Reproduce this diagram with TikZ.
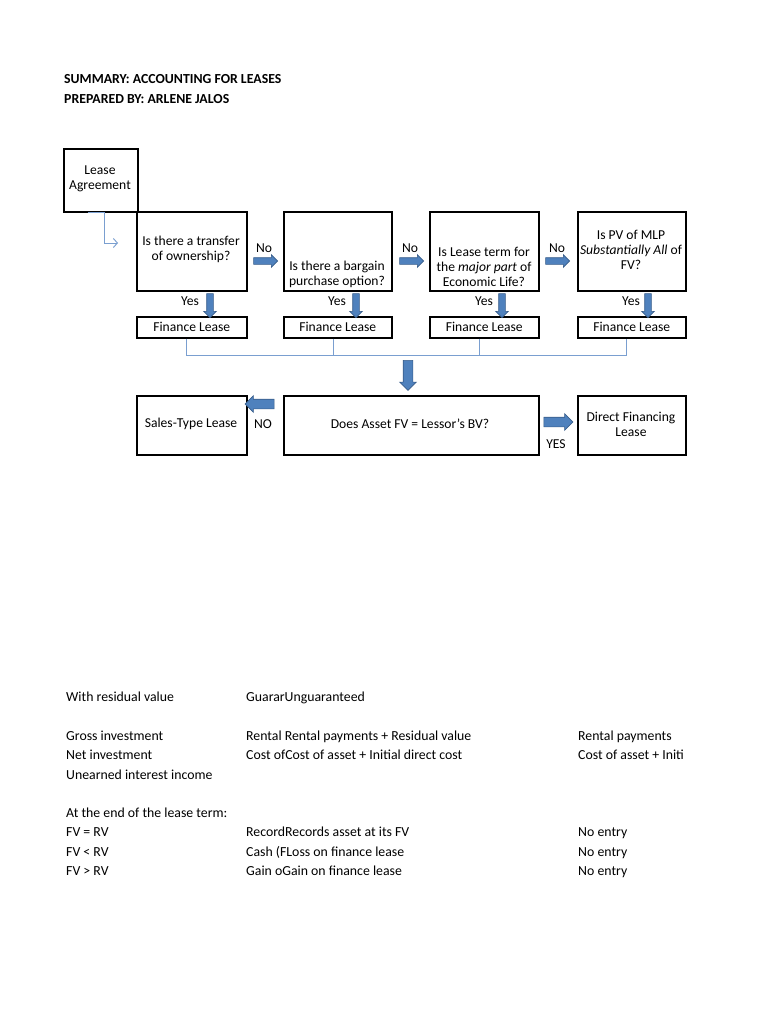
\documentclass[tikz,border=0pt]{standalone}
\usepackage{fontspec}
\setmainfont{Carlito}
\usetikzlibrary{shapes.arrows,arrows.meta}
\definecolor{arrowblue}{HTML}{4F81BD}
\definecolor{arrowedge}{HTML}{385D8A}
\definecolor{thinblue}{HTML}{7A9FD0}
\tikzset{
  box/.style={draw=black, line width=1.6pt, anchor=north west, inner sep=0pt},
  txt/.style={font=\fontsize{13.6}{15}\selectfont, align=center, inner sep=0pt},
  plain/.style={font=\fontsize{13.8}{15}\selectfont, anchor=base west, inner sep=0pt},
  ttl/.style={font=\bfseries\fontsize{13.8}{15}\selectfont, anchor=base west, inner sep=0pt},
  lab/.style={font=\fontsize{13.6}{15}\selectfont, inner sep=0pt},
  blk/.style={shape=single arrow, draw=arrowedge, fill=arrowblue, line width=0.6pt,
    inner xsep=0pt, single arrow head indent=0pt},
  smallarr/.style={blk, inner ysep=3pt, minimum height=24pt, single arrow head extend=3pt},
  bigarr/.style={blk, inner ysep=4.5pt, minimum height=29pt, single arrow head extend=3.5pt},
  thin/.style={draw=thinblue, line width=0.8pt}
}
\begin{document}
\begin{tikzpicture}[x=1pt,y=-1pt]
\useasboundingbox[fill=white] (0,0) rectangle (768,1024);

% titles
\node[ttl] (t1) at (64,84) {SUMMARY: ACCOUNTING FOR LEASES};
\node[ttl] (t2) at (64,104) {PREPARED BY: ARLENE JALOS};

% lease agreement
\node[box, minimum width=74pt, minimum height=63pt] (la) at (63,148) {};
\node[txt] (lat) at (100,179) {Lease\\Agreement};

% question boxes
\node[box, minimum width=110pt, minimum height=79pt] (b1) at (136,211) {};
\node[box, minimum width=108pt, minimum height=79pt] (b2) at (283,211) {};
\node[box, minimum width=109pt, minimum height=79pt] (b3) at (429,211) {};
\node[box, minimum width=108pt, minimum height=79pt] (b4) at (577,211) {};
\node[txt] (b1t) at (191,249) {Is there a transfer\\of ownership?};
\node[txt] (b2t) at (337,274) {Is there a bargain\\purchase option?};
\node[txt] (b3t) at (484,267) {Is Lease term for\\the \textit{major part} of\\Economic Life?};
\node[txt] (b4t) at (631,250) {Is PV of MLP\\\textit{Substantially All} of\\FV?};

% finance lease boxes
\node[box, minimum width=110pt, minimum height=21pt] (f1) at (136,316) {};
\node[box, minimum width=108pt, minimum height=21pt] (f2) at (283,316) {};
\node[box, minimum width=109pt, minimum height=21pt] (f3) at (429,316) {};
\node[box, minimum width=108pt, minimum height=21pt] (f4) at (577,316) {};
\foreach \n in {f1,f2,f3,f4}{
  \node[txt] (\n t) at (\n.center) {Finance Lease};
}

% lease agreement connector
\coordinate (la0) at (88,212);
\coordinate (la1) at (104,212);
\coordinate (la2) at (104,243);
\coordinate (la3) at (121,243);
\draw[thin, -{Straight Barb[sep=3pt,length=4pt,width=9pt,line width=0.9pt]}] (la0) -- (la1) -- (la2) -- (la3);

% No arrows
\node[smallarr] (n1) at (264,261) {};
\node[smallarr] (n2) at (410,261) {};
\node[smallarr] (n3) at (556,261) {};
\node[lab] (n1l) at (264,248) {No};
\node[lab] (n2l) at (410,248) {No};
\node[lab] (n3l) at (557,248) {No};

% Yes arrows
\node[smallarr, rotate=270] (y1) at (210,304) {};
\node[smallarr, rotate=270] (y2) at (356,304) {};
\node[smallarr, rotate=270] (y3) at (502,304) {};
\node[smallarr, rotate=270] (y4) at (648,304) {};
\node[lab] (y1l) at (190,301) {Yes};
\node[lab] (y2l) at (337,301) {Yes};
\node[lab] (y3l) at (484,301) {Yes};
\node[lab] (y4l) at (631,301) {Yes};

% bus
\coordinate (bus) at (0,355);
\draw[thin] (f1.south -| 186,0) -- (186,355) -- (626,355) -- (f4.south -| 626,0);
\draw[thin] (f2.south -| 333,0) -- (333,355);
\draw[thin] (f3.south -| 479,0) -- (479,355);

% big down arrow
\node[bigarr, minimum height=30pt, rotate=270] (dn) at (408,373) {};

% bottom row
\node[box, minimum width=110pt, minimum height=59pt] (st) at (136,395) {};
\node[box, minimum width=255pt, minimum height=59pt] (q5) at (283,395) {};
\node[box, minimum width=108pt, minimum height=59pt] (df) at (577,395) {};
\node[txt] (stt) at (191,424) {Sales-Type Lease};
\node[txt] (q5t) at (410,424) {Does Asset FV = Lessor's BV?};
\node[txt] (dft) at (631,424) {Direct Financing\\Lease};

\node[bigarr, rotate=180] (lf) at (262,404) {};
\node[bigarr] (rt) at (556,422) {};
\node[lab] (nol) at (263,424) {NO};
\node[lab] (yesl) at (556,444) {YES};

% table
\node[plain] (r1a) at (66,701) {With residual value};
\node[plain] (r1b) at (246,701) {GuararUnguaranteed};
\node[plain] (r2a) at (66,740) {Gross investment};
\node[plain] (r2b) at (246,740) {Rental Rental payments + Residual value};
\node[plain] (r2c) at (578,740) {Rental payments};
\node[plain] (r3a) at (66,759) {Net investment};
\node[plain] (r3b) at (246,759) {Cost ofCost of asset + Initial direct cost};
\node[plain] (r3c) at (578,759) {Cost of asset + Initi};
\node[plain] (r4a) at (66,779) {Unearned interest income};
\node[plain] (r5a) at (66,817) {At the end of the lease term:};
\node[plain] (r6a) at (66,836) {FV = RV};
\node[plain] (r6b) at (246,836) {RecordRecords asset at its FV};
\node[plain] (r6c) at (578,836) {No entry};
\node[plain] (r7a) at (66,856) {FV < RV};
\node[plain] (r7b) at (246,856) {Cash (FLoss on finance lease};
\node[plain] (r7c) at (578,856) {No entry};
\node[plain] (r8a) at (66,875) {FV > RV};
\node[plain] (r8b) at (246,875) {Gain oGain on finance lease};
\node[plain] (r8c) at (578,875) {No entry};
\end{tikzpicture}
\end{document}
